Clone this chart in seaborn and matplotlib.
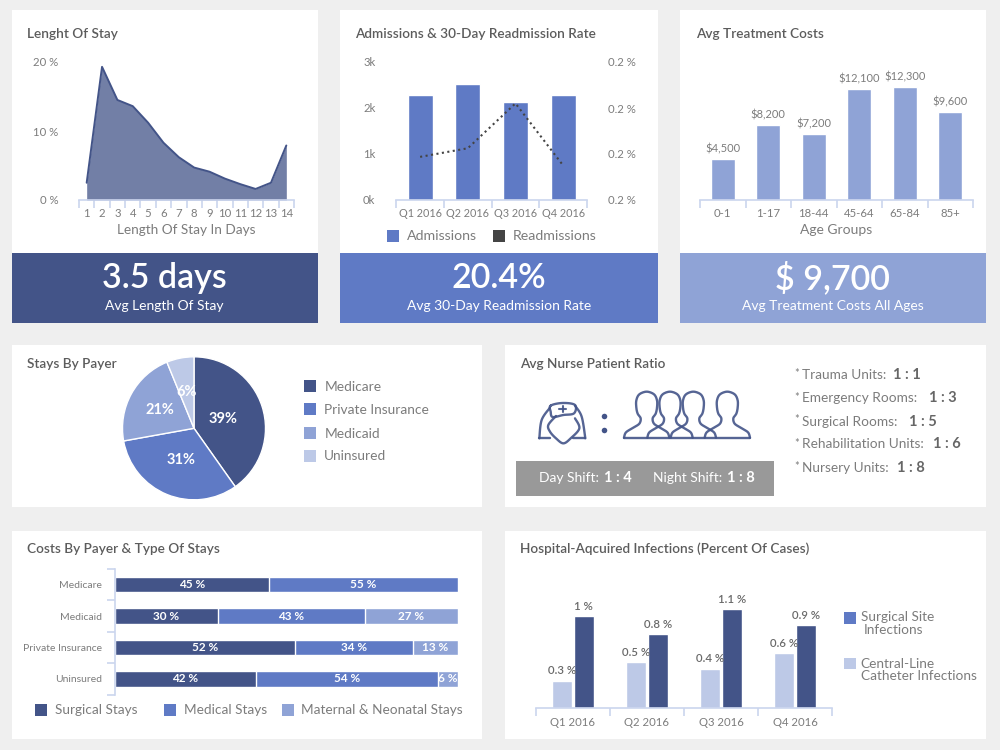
import numpy as np
import pandas as pd
import seaborn as sns
import matplotlib.pyplot as plt
from matplotlib.patches import Rectangle
from matplotlib.ticker import FuncFormatter

# length of stay
days = list(range(1, 15))
stay_pct = [2.5, 19.3, 14.5, 13.6, 11.2, 8.3, 6.2, 4.7, 4.1, 3.1, 2.3, 1.6, 2.5, 7.9]

# admissions
quarters = ['Q1 2016', 'Q2 2016', 'Q3 2016', 'Q4 2016']
admissions = [2.29, 2.53, 2.13, 2.28]
readmissions = [0.185, 0.190, 0.216, 0.180]

# treatment costs
age_groups = ['0-1', '1-17', '18-44', '45-64', '65-84', '85+']
costs = [4500, 8200, 7200, 12100, 12300, 9600]

# stays by payer
pie_names = ['Medicare', 'Private Insurance', 'Medicaid', 'Uninsured']
pie_vals = [39, 31, 21, 6]

# nurse ratios
unit_names = ['Trauma Units:', 'Emergency Rooms:', 'Surgical Rooms:', 'Rehabilitation Units:', 'Nursery Units:']
unit_ratios = ['1 : 1', '1 : 3', '1 : 5', '1 : 6', '1 : 8']

# costs by payer
payers = ['Medicare', 'Medicaid', 'Private Insurance', 'Uninsured']
surgical = [45, 30, 52, 42]
medical = [55, 43, 34, 54]
maternal = [0, 27, 13, 6]

# infections (bar heights, labels show one decimal)
central_line = [0.3, 0.5, 0.43, 0.6]
surgical_site = [1, 0.8, 1.07, 0.9]

DARK = '#435488'
MID = '#5F7AC5'
LIGHT = '#8FA3D6'
PALE = '#BDC9E7'
AXIS = '#CBD5EE'
TITLE = '#5c5c5c'
GREY = '#7c7c7c'
FONT = 'Lato'

sns.set_theme(style='white')
plt.rcParams['font.family'] = [FONT, 'DejaVu Sans']

fig = plt.figure(figsize=(10, 7.5), dpi=100, facecolor='#EFEFEF')

# whole-figure layer in pixel coordinates for the cards and loose text
bg = fig.add_axes([0, 0, 1, 1], zorder=-1)
bg.set_xlim(0, 1000)
bg.set_ylim(750, 0)
bg.axis('off')


def box(x0, y0, x1, y1, color='white'):
    bg.add_patch(Rectangle((x0, y0), x1 - x0, y1 - y0, color=color, lw=0))


def label(x, y, s, size=9.5, color=GREY, ha='left', weight='normal'):
    bg.text(x, y, s, fontsize=size, color=color, ha=ha, va='center', fontweight=weight)


def ax_px(x0, y0, x1, y1):
    a = fig.add_axes([x0 / 1000, 1 - y1 / 750, (x1 - x0) / 1000, (y1 - y0) / 750])
    a.patch.set_alpha(0)
    return a


def style_x(a, n, size=8.2, first=-0.5):
    # little brackets on the category edges, labels stay in the middle
    sns.despine(ax=a, left=True, top=True, right=True)
    a.spines['bottom'].set_color(AXIS)
    a.spines['bottom'].set_linewidth(1.2)
    a.set_xticks(np.arange(n + 1) + first, minor=True)
    a.tick_params(axis='x', which='minor', bottom=True, length=6, width=1.2, color=AXIS, direction='out')
    a.tick_params(axis='x', which='major', length=0, pad=6, labelsize=size, labelcolor=GREY)


def smooth(pts, closed=False, k=12):
    # catmull-rom through the given points, used for the icon outlines
    p = np.array(pts, dtype=float)
    if closed:
        p = np.vstack([p[-1], p, p[0], p[1]])
    else:
        p = np.vstack([p[0], p, p[-1]])
    out = []
    for i in range(1, len(p) - 2):
        for t in np.linspace(0, 1, k, endpoint=False):
            out.append(0.5 * (2 * p[i] + (p[i + 1] - p[i - 1]) * t
                              + (2 * p[i - 1] - 5 * p[i] + 4 * p[i + 1] - p[i + 2]) * t ** 2
                              + (3 * p[i] - p[i - 1] - 3 * p[i + 1] + p[i + 2]) * t ** 3))
    out.append(p[-2])
    return np.array(out)


def icon(pts, closed=False, lw=1.7):
    line = smooth(pts, closed)
    # icon points are measured on a 3x crop starting at (530, 385)
    bg.plot(530 + line[:, 0] / 3, 385 + line[:, 1] / 3, color=DARK, lw=lw, solid_capstyle='round', alpha=0.9)


# cards
box(12, 10, 317.5, 323)
box(340, 10, 658, 323)
box(680, 10, 985.5, 323)
box(12, 253, 317.5, 323, DARK)
box(340, 253, 658, 323, MID)
box(680, 253, 985.5, 323, LIGHT)
box(12, 345, 481.5, 507)
box(505, 345, 986, 507)
box(12, 531, 481.5, 739)
box(505, 531, 986, 739)

for x, y, s in [(27, 33.5, 'Lenght Of Stay'), (355.5, 33.5, 'Admissions & 30-Day Readmission Rate'),
                (696, 33.5, 'Avg Treatment Costs'), (27, 363.5, 'Stays By Payer'),
                (520, 363.5, 'Avg Nurse Patient Ratio'), (27, 549, 'Costs By Payer & Type Of Stays'),
                (520, 549, 'Hospital-Aqcuired Infections (Percent Of Cases)')]:
    label(x, y, s, size=9.8, color=TITLE, weight='semibold')

for cx, big, small in [(164.5, '3.5 days', 'Avg Length Of Stay'),
                       (499, '20.4%', 'Avg 30-Day Readmission Rate'),
                       (832.7, '$ 9,700', 'Avg Treatment Costs All Ages')]:
    label(cx, 278, big, size=24.5, color='white', ha='center', weight='semibold')
    label(cx, 306.5, small, size=10, color='white', ha='center')

# 1 - length of stay
ax1 = ax_px(79, 62, 294, 200)
sns.lineplot(x=days, y=stay_pct, color=DARK, lw=1.4, ax=ax1)
ax1.fill_between(days, stay_pct, color=DARK, alpha=0.75, lw=0)
ax1.set_xlim(0.5, 14.5)
ax1.set_ylim(0, 20)
ax1.set_xticks(days)
style_x(ax1, 14, first=0.5)
ax1.set_yticks([0, 10, 20])
ax1.yaxis.set_major_formatter(FuncFormatter(lambda v, p: f'{v:.0f} %'))
ax1.tick_params(axis='y', length=0, pad=15, labelsize=8.2, labelcolor=GREY)
ax1.set_xlabel('Length Of Stay In Days', fontsize=9.8, color=GREY, labelpad=3.7)

# 2 - admissions and readmission rate
ax2 = ax_px(396.3, 62, 587, 200)
sns.barplot(x=quarters, y=admissions, color=MID, saturation=1, width=0.52, ax=ax2)
ax2.set_ylim(0, 3)
style_x(ax2, 4, size=7.8)
ax2.set_yticks([0, 1, 2, 3])
ax2.yaxis.set_major_formatter(FuncFormatter(lambda v, p: f'{v:.0f}k'))
ax2.tick_params(axis='y', length=0, pad=15, labelsize=8.2, labelcolor=GREY)
ax2b = ax2.twinx()
ax2b.patch.set_alpha(0)
sns.lineplot(x=np.arange(4), y=readmissions, color='#444444', lw=1.5, ls=':', ax=ax2b)
ax2b.set_ylim(0.16, 0.24)
ax2b.set_yticks([0.16, 0.187, 0.213, 0.24])
ax2b.yaxis.set_major_formatter(FuncFormatter(lambda v, p: f'{v:.1f} %'))
ax2b.tick_params(axis='y', length=0, pad=15, labelsize=8.2, labelcolor=GREY)
sns.despine(ax=ax2b, left=True, top=True, right=True, bottom=True)
ax2.set_xlim(-0.5, 3.5)
box(386.7, 230, 398.5, 241.7, MID)
label(406.7, 236.5, 'Admissions', size=10.2)
box(492.7, 230, 504.5, 241.7, '#444444')
label(512.7, 236.5, 'Readmissions', size=10.2)

# 3 - treatment costs
ax3 = ax_px(700, 62, 973, 200)
sns.barplot(x=age_groups, y=costs, color=LIGHT, saturation=1, width=0.53, ax=ax3)
ax3.set_ylim(0, 15000)
style_x(ax3, 6)
ax3.set_yticks([])
ax3.set_ylabel('')
ax3.bar_label(ax3.containers[0], labels=[f'${c:,}' for c in costs], padding=3, fontsize=8, color=GREY)
ax3.set_xlabel('Age Groups', fontsize=10, color=GREY, labelpad=3.7)

# 4 - pie
ax4 = ax_px(194 - 71.5, 428.3 - 71.5, 194 + 71.5, 428.3 + 71.5)
wedges, _ = ax4.pie(pie_vals, colors=[DARK, MID, LIGHT, PALE], startangle=90, counterclock=False, radius=1)
ax4.set_xlim(-1, 1)
ax4.set_ylim(-1, 1)
for w, v, r in zip(wedges, pie_vals, [0.42, 0.48, 0.54, 0.52]):
    a = np.deg2rad((w.theta1 + w.theta2) / 2)
    ax4.text(r * np.cos(a), r * np.sin(a), f'{v}%', color='white', ha='center', va='center',
             fontsize=10.5, fontweight='bold')
for y, name, c in zip([386.3, 409.3, 433, 455.7], pie_names, [DARK, MID, LIGHT, PALE]):
    box(304.3, y - 6, 316.3, y + 6, c)
    label(324.3, y + 0.5, name, size=9.95)

# nurse icon
icon([(62, 62), (98, 54), (135, 60), (132, 85), (100, 90), (68, 96), (62, 80)], closed=True)
icon([(60, 68), (35, 105), (28, 160)])
icon([(135, 62), (155, 95), (166, 160)])
icon([(28, 160), (60, 160)])
icon([(130, 160), (166, 160)])
icon([(78, 93), (55, 120), (60, 140), (78, 160), (100, 175), (122, 160), (148, 130), (135, 100)])
icon([(98, 62), (98, 82)], lw=1.5)
icon([(87, 72), (109, 72)], lw=1.5)
bg.scatter([530 + 223 / 3, 530 + 223 / 3], [385 + 93 / 3, 385 + 134 / 3], s=16, color=DARK, lw=0)
for cx in [350, 420, 490, 592]:
    icon([(cx - 68, 158), (cx - 62, 142), (cx - 40, 128), (cx - 22, 116), (cx - 18, 100), (cx - 27, 86),
          (cx - 31, 68), (cx - 31, 46), (cx - 22, 28), (cx, 20), (cx + 22, 28), (cx + 31, 46), (cx + 31, 68),
          (cx + 27, 86), (cx + 18, 100), (cx + 22, 116), (cx + 40, 128), (cx + 62, 142), (cx + 68, 158)])
icon([(283, 158), (660, 158)])

box(515.7, 461, 774, 496, '#999999')
label(539.3, 478.5, 'Day Shift:', size=10, color='white')
label(604, 478.5, '1 : 4', size=10.5, color='white', weight='bold')
label(652.7, 478.5, 'Night Shift:', size=10, color='white')
label(726.7, 478.5, '1 : 8', size=10.5, color='white', weight='bold')

for y, name, ratio, xr in zip([374.7, 398, 421, 444, 467.7], unit_names, unit_ratios,
                              [893.3, 929.3, 909.3, 933.3, 897.3]):
    label(794, y - 1, '*', size=8)
    label(802, y + 0.5, name, size=9.8)
    label(xr, y + 0.5, ratio, size=10.5, color='#666666', weight='bold')

# 5 - stacked bars, each row scaled to 100
ax5 = ax_px(114.7, 569, 457.7, 694.6)
tot = np.array(surgical) + np.array(medical) + np.array(maternal)
share1 = np.array(surgical) / tot * 100
share2 = np.array(medical) / tot * 100
share3 = np.array(maternal) / tot * 100
sns.barplot(x=share1 + share2 + share3, y=payers, color=LIGHT, saturation=1, width=0.49, ax=ax5)
sns.barplot(x=share1 + share2, y=payers, color=MID, saturation=1, width=0.49, ax=ax5)
sns.barplot(x=share1, y=payers, color=DARK, saturation=1, width=0.49, ax=ax5)
ax5.set_xlim(0, 100)
ax5.set_ylim(3.5, -0.5)
sns.despine(ax=ax5, top=True, right=True, bottom=True)
ax5.spines['left'].set_color(AXIS)
ax5.spines['left'].set_linewidth(1.2)
ax5.set_xticks([])
ax5.set_yticks(np.arange(5) - 0.5, minor=True)
ax5.tick_params(axis='y', which='minor', left=True, length=6, width=1.2, color=AXIS)
ax5.tick_params(axis='y', which='major', length=0, pad=9, labelsize=7.5, labelcolor=GREY)
for i in range(len(payers)):
    for start, w, v in [(0, share1[i], surgical[i]), (share1[i], share2[i], medical[i]),
                        (share1[i] + share2[i], share3[i], maternal[i])]:
        if v > 0:
            ax5.text(start + w / 2, i, f'{v} %', color='white', ha='center', va='center',
                     fontsize=8.5, fontweight='bold')
for xs, xt, name, c in [(35, 54.7, 'Surgical Stays', DARK), (164.3, 184, 'Medical Stays', MID),
                        (281.7, 301.3, 'Maternal & Neonatal Stays', LIGHT)]:
    box(xs, 704, xs + 12, 716, c)
    label(xt, 710.5, name, size=9.85)

# 6 - infections
ax6 = ax_px(535.7, 579, 832.3, 708.3)
infect = pd.DataFrame({
    'quarter': quarters * 2,
    'pct': central_line + surgical_site,
    'kind': ['Central-Line'] * 4 + ['Surgical Site'] * 4,
})
sns.barplot(data=infect, x='quarter', y='pct', hue='kind', palette={'Central-Line': PALE, 'Surgical Site': DARK},
            saturation=1, width=0.6, gap=0.1, legend=False, ax=ax6)
ax6.set_ylim(0, 1.4)
style_x(ax6, 4)
ax6.set_yticks([])
ax6.set_xlabel('')
ax6.set_ylabel('')
for cont, vals in zip(ax6.containers, [central_line, surgical_site]):
    ax6.bar_label(cont, labels=[f'{round(v, 1):g} %' for v in vals], padding=3, fontsize=8.2, color='#6a6a6a',
                  fontweight='semibold')
box(844.3, 612, 856, 623.7, MID)
label(860.7, 617, 'Surgical Site', size=9.8)
label(864, 630, 'Infections', size=9.8)
box(844.3, 657.7, 856, 669.3, PALE)
label(860.7, 663.5, 'Central-Line', size=9.8)
label(860.7, 676.5, 'Catheter Infections', size=9.8)

fig.savefig('out.png', dpi=100, facecolor=fig.get_facecolor())
